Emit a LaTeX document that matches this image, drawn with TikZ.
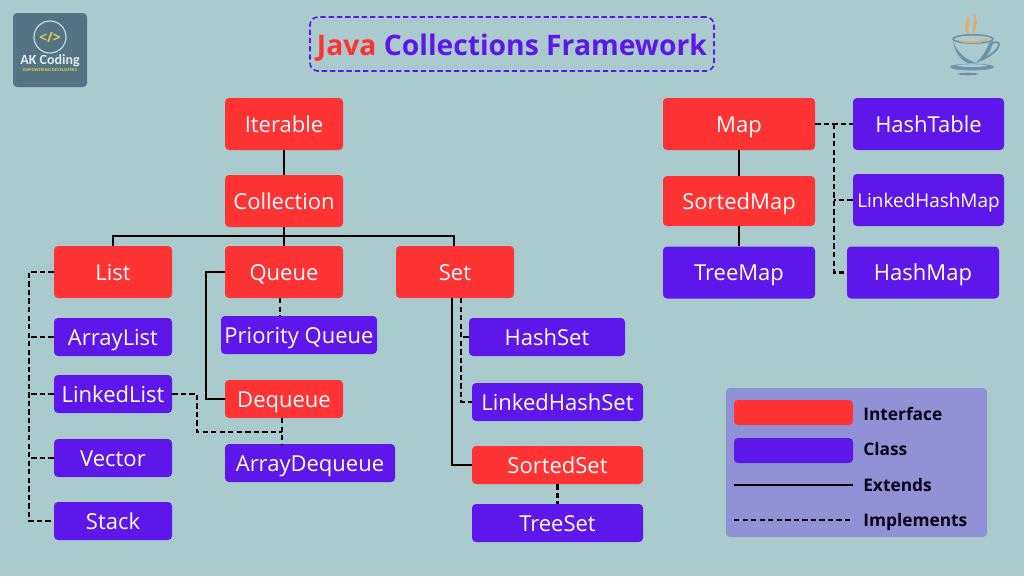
\documentclass[tikz,border=0pt]{standalone}
\usepackage{fontspec}
\setmainfont{Open Sans}
\newfontfamily\logofont{Carlito}
\definecolor{bgc}{HTML}{A9CBCE}
\definecolor{redc}{HTML}{FF3333}
\definecolor{purc}{HTML}{5E17EB}
\definecolor{panelc}{HTML}{9191D6}
\definecolor{logoc}{HTML}{537482}
\definecolor{cupc}{HTML}{6A93A8}
\definecolor{steamc}{HTML}{D9AE74}
\definecolor{goldc}{HTML}{E6C65A}
\def\px{*0.75pt}
\tikzset{
  basebox/.style={rounded corners=3pt,text=white,inner sep=0pt,text height=12.4pt,text depth=0pt,font=\fontsize{16.5}{18}\selectfont},
  ibox/.style={basebox,fill=redc},
  cbox/.style={basebox,fill=purc},
  ext/.style={line width=1.6pt,black},
  impl/.style={line width=1.6pt,black,dash pattern=on 4pt off 2.4pt},
  legtext/.style={anchor=west,inner sep=0pt,text height=9.4pt,text depth=0pt,font=\fontsize{13}{15}\selectfont\bfseries,text=black!90!purc},
}
\begin{document}
\begin{tikzpicture}[x=0.75pt,y=-0.75pt]
\useasboundingbox (0,0) rectangle (1024,576);
\fill[bgc] (0,0) rectangle (1024,576);

% logo
\fill[logoc,rounded corners=3pt] (13,13) rectangle (87,87);
\draw[white!70!logoc,line width=0.9pt] (50,37) circle (16);
\node[inner sep=0pt,text=goldc,font=\fontsize{10.5}{11}\selectfont\bfseries] (logomark) at (50,37.5) {</>};
\node[inner sep=0pt,text=white!85!logoc,font=\logofont\fontsize{10.5}{12}\selectfont\bfseries] (logoname) at (50,60.5) {AK Coding};
\node[inner sep=0pt,text=goldc,font=\fontsize{3}{4}\selectfont\bfseries] (logotag) at (50,70.5) {EMPOWERING DEVELOPERS};

% title
\node[draw=purc,line width=1.2pt,dash pattern=on 4pt off 2.2pt,rounded corners=6pt,minimum width=404\px,minimum height=54\px,inner sep=0pt,text height=16.5pt,text depth=0pt,font=\fontsize{21.2}{24}\selectfont\bfseries] (title) at (512,44) {\textcolor{redc}{Java} \textcolor{purc}{Collections Framework}};

% cup
\fill[steamc] (968,15) .. controls (973,23) and (964,29) .. (971,38) .. controls (963,33) and (965,24) .. (968,15) -- cycle;
\fill[steamc] (973,12) .. controls (982,23) and (972,29) .. (975,38) .. controls (968,30) and (977,23) .. (973,12) -- cycle;
\draw[cupc,line width=1.1pt] (973,39) ellipse (20 and 4.2);
\fill[steamc] (957,39.5) .. controls (965,43) and (980,42) .. (988,38) .. controls (989,44) and (962,46) .. (957,39.5) -- cycle;
\fill[cupc] (953,41) .. controls (955,52) and (960,60) .. (968,63) -- (976,63) .. controls (968,60) and (957,54) .. (953,41) -- cycle;
\fill[cupc] (993,41) .. controls (992,50) and (986,60) .. (976,63) .. controls (982,57) and (987,50) .. (989,43) -- cycle;
\draw[cupc,line width=1.3pt] (991,44) .. controls (999,39) and (1001,44) .. (997,49) .. controls (993,54) and (987,57) .. (982,60);
\fill[cupc] (972,67) ellipse (22 and 3.4);
\fill[bgc] (972,65.6) ellipse (15 and 1.4);
\fill[cupc] (968,74) ellipse (10 and 1.3);

% legend
\fill[panelc,rounded corners=3pt] (726,388) rectangle (987,537);
\node[ibox,minimum width=119\px,minimum height=25\px] (leg1) at (793.5,412.5) {};
\node[cbox,minimum width=119\px,minimum height=25\px] (leg2) at (793.5,450.5) {};
\coordinate (leg3a) at (734,485);
\coordinate (leg3b) at (853,485);
\coordinate (leg4a) at (734,520);
\coordinate (leg4b) at (853,520);
\draw[ext] (leg3a) -- (leg3b);
\draw[impl,line width=1.4pt] (leg4a) -- (leg4b);
\node[legtext] (t1) at (863,414) {Interface};
\node[legtext] (t2) at (863,449) {Class};
\node[legtext] (t3) at (863,485) {Extends};
\node[legtext] (t4) at (863,520) {Implements};

% connector helpers
\coordinate (bus) at (284,236);
\coordinate (listx) at (113,236);
\coordinate (setx) at (454,236);
\coordinate (ls) at (29,272);
\coordinate (qs) at (206,272);
\coordinate (qd) at (280,298);
\coordinate (dd) at (282,418);
\coordinate (lj) at (197,432);
\coordinate (ss) at (452,298);
\coordinate (sd) at (461,298);
\coordinate (md) at (834,124);

% nodes
\node[ibox,minimum width=118\px,minimum height=52\px] (iterable) at (284,124) {Iterable};
\node[ibox,minimum width=118\px,minimum height=52\px] (collection) at (284,201) {Collection};
\node[ibox,minimum width=118\px,minimum height=52\px] (list) at (113,272) {List};
\node[ibox,minimum width=118\px,minimum height=52\px] (queue) at (284,272) {Queue};
\node[ibox,minimum width=118\px,minimum height=52\px] (set) at (455,272) {Set};
\node[cbox,minimum width=118\px,minimum height=38\px] (arraylist) at (113,337) {ArrayList};
\node[cbox,minimum width=118\px,minimum height=38\px] (linkedlist) at (113,394) {LinkedList};
\node[cbox,minimum width=118\px,minimum height=38\px] (vector) at (113,458) {Vector};
\node[cbox,minimum width=118\px,minimum height=38\px] (stack) at (113,521) {Stack};
\node[cbox,minimum width=156\px,minimum height=38\px] (pq) at (299,335) {Priority Queue};
\node[ibox,minimum width=118\px,minimum height=38\px] (dequeue) at (284,399) {Dequeue};
\node[cbox,minimum width=170\px,minimum height=38\px] (arraydequeue) at (310,463) {ArrayDequeue};
\node[cbox,minimum width=156\px,minimum height=38\px] (hashset) at (547,337) {HashSet};
\node[cbox,minimum width=171\px,minimum height=38\px] (linkedhashset) at (557.5,402) {LinkedHashSet};
\node[ibox,minimum width=171\px,minimum height=38\px] (sortedset) at (557.5,465) {SortedSet};
\node[cbox,minimum width=171\px,minimum height=38\px] (treeset) at (557.5,523) {TreeSet};
\node[ibox,minimum width=152\px,minimum height=52\px] (map) at (739,124) {Map};
\node[ibox,minimum width=152\px,minimum height=50\px] (sortedmap) at (739,201) {SortedMap};
\node[cbox,minimum width=152\px,minimum height=52\px] (treemap) at (739,272.5) {TreeMap};
\node[cbox,minimum width=151\px,minimum height=52\px] (hashtable) at (928.5,124) {HashTable};
\node[cbox,minimum width=151\px,minimum height=52\px,text height=11.4pt,font=\fontsize{14.2}{18}\selectfont] (linkedhashmap) at (928.5,200) {LinkedHashMap};
\node[cbox,minimum width=152\px,minimum height=52\px] (hashmap) at (923,272.5) {HashMap};

% extends
\draw[ext] (iterable) -- (collection);
\draw[ext] (collection) -- (bus);
\draw[ext] (list.north) -- (listx) -- (setx) -- (set.north -| setx);
\draw[ext] (bus) -- (queue);
\draw[ext] (queue.west) -- (qs) |- (dequeue.west);
\draw[ext] (set.south -| ss) |- (sortedset.west);
\draw[ext] (map) -- (sortedmap);
\draw[ext] (sortedmap) -- (treemap);

% implements
\draw[impl] (list.west) -- (ls) |- (stack.west);
\draw[impl] (arraylist.west) -- (arraylist.west -| ls);
\draw[impl] (linkedlist.west) -- (linkedlist.west -| ls);
\draw[impl] (vector.west) -- (vector.west -| ls);
\draw[impl] (qd) -- (pq.north -| qd);
\draw[impl] (linkedlist.east) -| (lj) -- (lj -| dd);
\draw[impl] (dd) -- (arraydequeue.north -| dd);
\draw[impl] (sd) |- (linkedhashset.west);
\draw[impl] (hashset.west) -- (hashset.west -| sd);
\draw[impl] (sortedset.south) -- (treeset.north);
\draw[impl] (map.east) -- (hashtable.west);
\draw[impl] (md) |- (hashmap.west);
\draw[impl] (linkedhashmap.west) -- (linkedhashmap.west -| md);
\end{tikzpicture}
\end{document}
